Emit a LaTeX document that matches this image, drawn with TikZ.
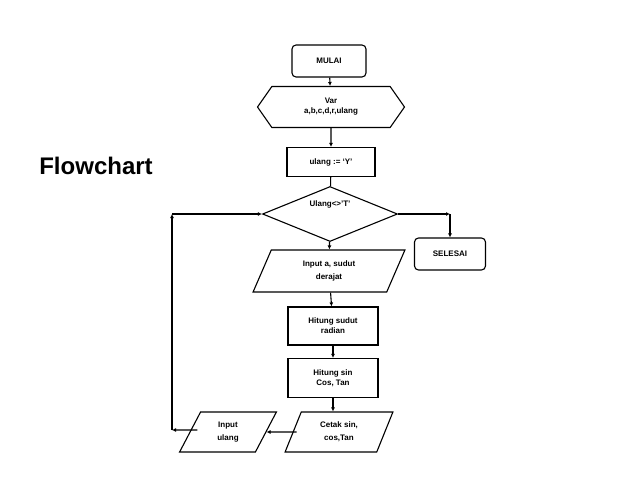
\documentclass[tikz,border=0pt]{standalone}
\usepackage{fontspec}
\setmainfont{Liberation Sans}
\usetikzlibrary{shapes.geometric,shapes.symbols,positioning,arrows.meta}

\begin{document}
\begin{tikzpicture}[
  x=1pt,y=-1pt,
  every node/.style={font=\bfseries\fontsize{8}{10}\selectfont,align=center,inner sep=0pt},
  term/.style={rectangle,rounded corners=4pt,draw,line width=1.1pt},
  proc/.style={rectangle,draw,line width=1.1pt},
  prep/.style={signal,signal to=west and east,signal pointer angle=110,draw,line width=1.1pt},
  dec/.style={diamond,draw,line width=1.1pt,aspect=2.4},
  io/.style={trapezium,trapezium left angle=68,trapezium right angle=112,trapezium stretches=true,draw,line width=1.1pt},
  flow/.style={-{Latex[length=4pt,width=4pt]},line width=1.1pt},
]
\useasboundingbox (0,0) rectangle (638,493);
\node[font=\bfseries\fontsize{24}{28}\selectfont] (title) at (96,166) {Flowchart};

\node[term,minimum width=74,minimum height=32] (mulai) at (329,61) {MULAI};
\node[prep,minimum width=147,minimum height=41] (var) at (331,107) {Var\\a,b,c,d,r,ulang};
\node[proc,minimum width=88,minimum height=29] (init) at (331,162) {ulang := ‘Y’};
\node[dec,minimum width=135,minimum height=55] (cek) at (330,214) {Ulang<>’T’\\[10pt]};
\node[term,minimum width=71,minimum height=32] (selesai) at (450,254) {SELESAI};
\node[io,minimum width=153,minimum height=42] (input) at (329,271) {Input a, sudut\\[3pt]derajat};
\node[proc,minimum width=90,minimum height=38] (radian) at (333,326) {Hitung sudut\\radian};
\node[proc,minimum width=90,minimum height=39] (hitung) at (333,378) {Hitung sin\\Cos, Tan};
\node[io,minimum width=108,minimum height=40] (cetak) at (339,432) {Cetak sin,\\[3pt]cos,Tan};
\node[io,minimum width=97,minimum height=40] (ulang) at (228,432) {Input\\[3pt]ulang};
\coordinate (kiri) at (172,430);
\coordinate (atas) at (172,214);
\coordinate (kanan) at (450,214);

\draw[flow] (mulai) -- (var);
\draw[flow] (var) -- (init);
\draw[line width=1.1pt] (init) -- (cek);
\draw[flow] (cek) -- (input);
\draw[flow] (input) -- (radian);
\draw[flow] (radian) -- (hitung);
\draw[flow] (hitung) -- (hitung |- cetak.north);
\draw[flow] (cetak.west) ++(4,0) -- (ulang.east);
\draw[flow] (ulang.west) ++(8,-2) -- (kiri);
\draw[flow] (kiri) -- (atas);
\draw[flow] (atas) -- (cek.west);
\draw[flow] (cek.east) -- (kanan);
\draw[flow] (kanan) -- (selesai.north);
\end{tikzpicture}
\end{document}
